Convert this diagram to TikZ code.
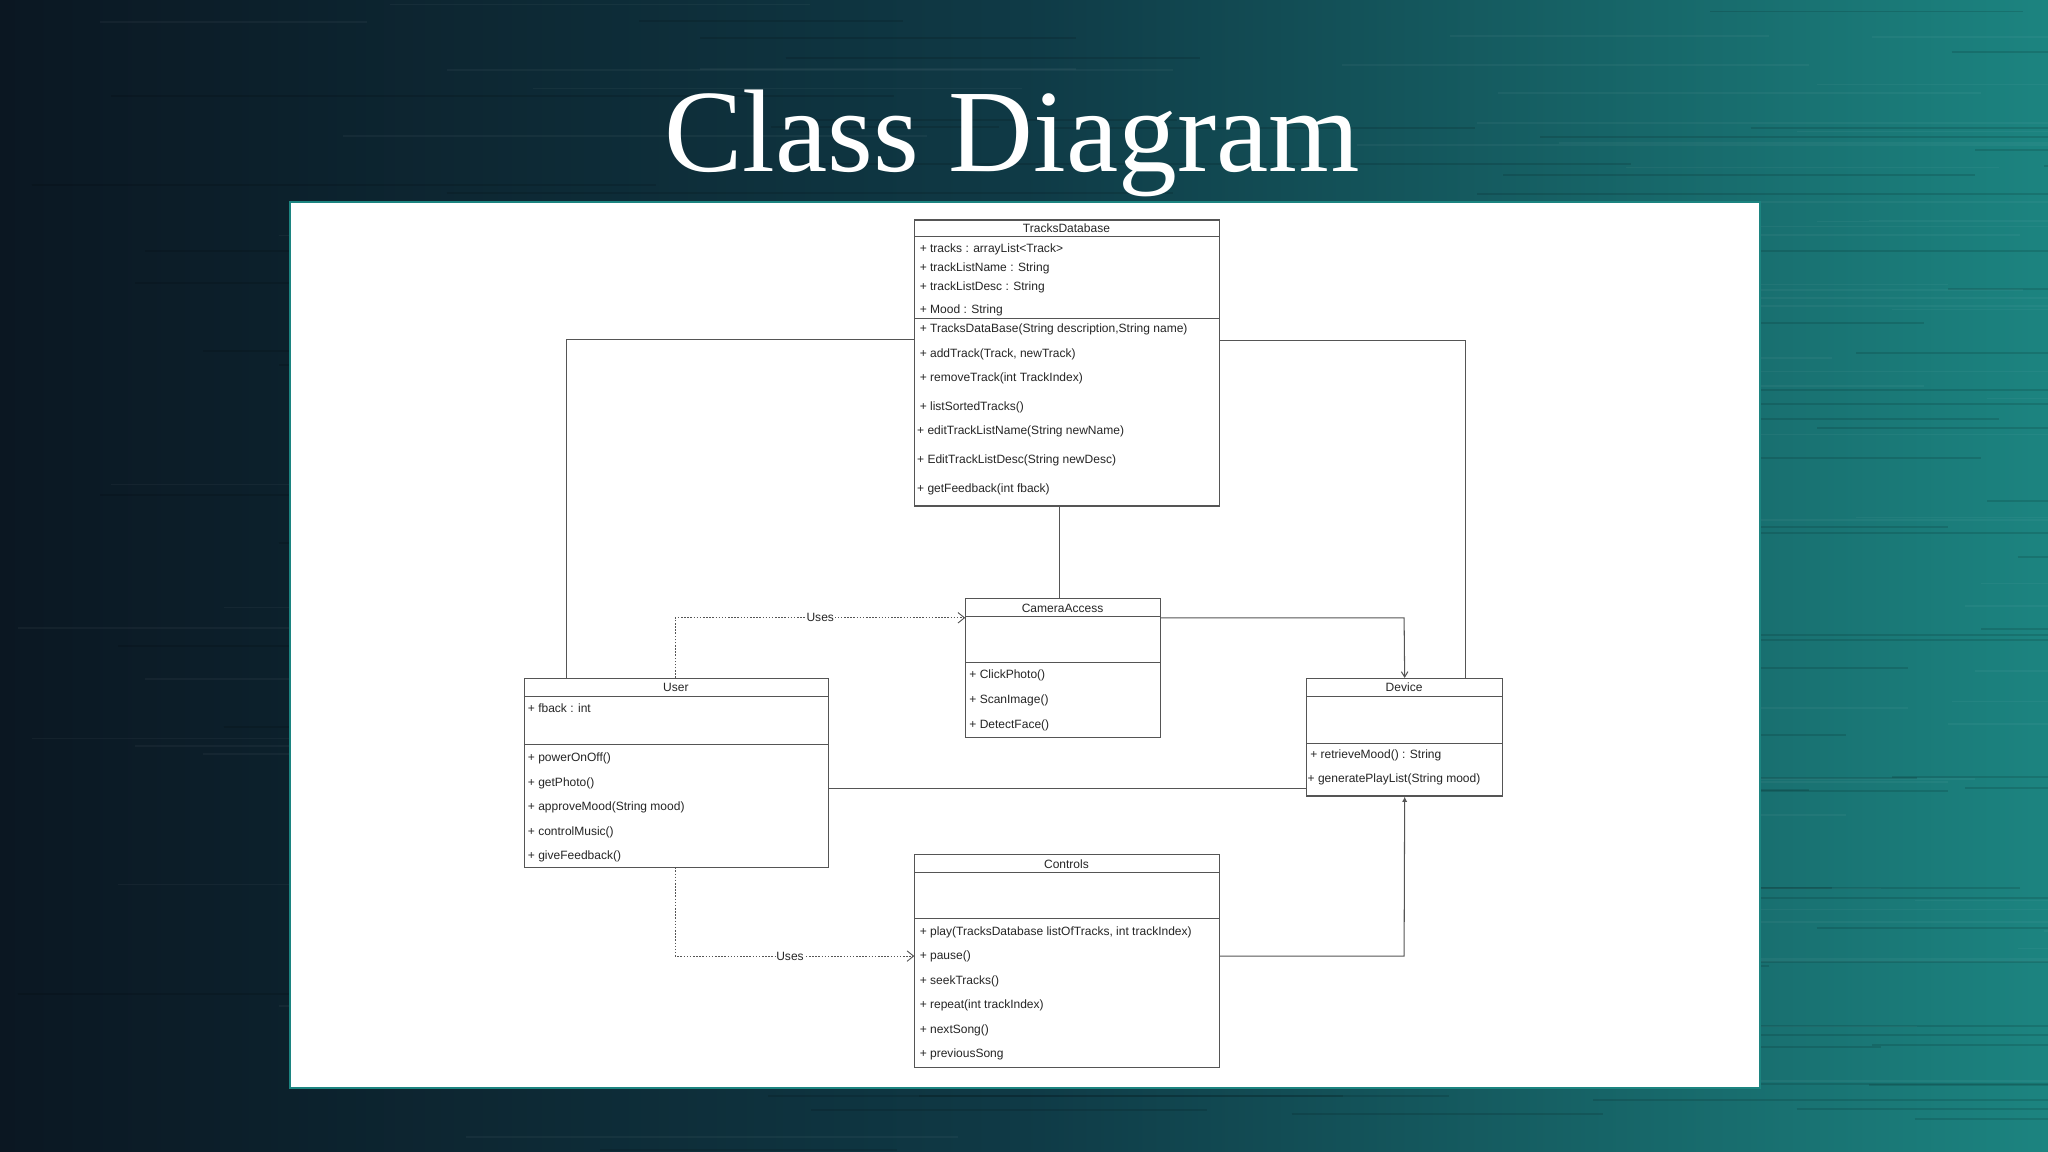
\documentclass[tikz,border=0pt]{standalone}
\usepackage{fontspec}
\newfontfamily\dsans{Liberation Sans}
\newfontfamily\dserif{Liberation Serif}
\usetikzlibrary{calc,arrows.meta}
\definecolor{bgA}{HTML}{0B1722}
\definecolor{bgB}{HTML}{0F3A46}
\definecolor{bgC}{HTML}{1C8480}
\definecolor{ln}{HTML}{555555}
\begin{document}
\begin{tikzpicture}[x=1pt,y=-1pt,
  box/.style={draw=ln,line width=0.9pt,fill=white,anchor=north west,inner sep=0pt},
  sep/.style={draw=ln,line width=0.8pt},
  mem/.style={anchor=west,font=\dsans\fontsize{9.2}{10}\selectfont,text=black!85,inner sep=0pt},
  ttl/.style={anchor=center,font=\dsans\fontsize{9.2}{10}\selectfont,text=black!85,inner sep=0pt},
  con/.style={draw=ln,line width=0.8pt},
  dep/.style={draw=ln,line width=0.7pt,dash pattern=on 1.2pt off 1.2pt,-{Straight Barb[open,length=5pt,width=8pt]}},
  lab/.style={font=\dsans\fontsize{9.2}{10}\selectfont,fill=white,inner sep=0.5pt,text=black!85}]
\useasboundingbox (0,0) rectangle (1568,882);
\shade[left color=bgA,right color=bgC,middle color=bgB] (0,0) rectangle (1568,882);
\pgfmathsetseed{7}
\foreach \i in {1,...,90}{
  \pgfmathsetmacro{\yy}{rnd*882}
  \pgfmathsetmacro{\xx}{rnd*1568}
  \pgfmathsetmacro{\ww}{150+rnd*500}
  \draw[white,opacity=0.04,line width=1.2pt] (\xx,\yy) -- ++(\ww,0);
  \pgfmathsetmacro{\yb}{rnd*882}
  \draw[black,opacity=0.12,line width=1.5pt] (\xx,\yb) -- ++(\ww,0);
}
\node[draw=bgC,line width=1.5pt,fill=white,anchor=north west,minimum width=1126pt,minimum height=678pt,inner sep=0pt] (panel) at (221,154) {};
\node[text=white,font=\dserif\fontsize{90}{94}\selectfont] (title) at (775,110) {Class Diagram};
% TracksDatabase
\node[box,minimum width=233pt,minimum height=219pt] (td) at (700,168) {};
\draw[sep] (700,181) -- (933,181) (700,244) -- (933,244);
\node[ttl] (tdt) at (816.5,175) {TracksDatabase};
\node[mem] (td1) at (704,191) {+ tracks : arrayList<Track>};
\node[mem] (td2) at (704,205.5) {+ trackListName : String};
\node[mem] (td3) at (704,220) {+ trackListDesc : String};
\node[mem] (td4) at (704,238) {+ Mood : String};
\node[mem] (td5) at (704,252.5) {+ TracksDataBase(String description,String name)};
\node[mem] (td6) at (704,271) {+ addTrack(Track, newTrack)};
\node[mem] (td7) at (704,290) {+ removeTrack(int TrackIndex)};
\node[mem] (td8) at (704,312) {+ listSortedTracks()};
\node[mem] (td9) at (702,330.5) {+ editTrackListName(String newName)};
\node[mem] (td10) at (702,352.5) {+ EditTrackListDesc(String newDesc)};
\node[mem] (td11) at (702,374.5) {+ getFeedback(int fback)};
% CameraAccess
\node[box,minimum width=149pt,minimum height=106pt] (ca) at (739,458) {};
\draw[sep] (739,472) -- (888,472) (739,507) -- (888,507);
\node[ttl] (cat) at (813.5,465.5) {CameraAccess};
\node[mem] (ca1) at (742,517) {+ ClickPhoto()};
\node[mem] (ca2) at (742,536) {+ ScanImage()};
\node[mem] (ca3) at (742,555) {+ DetectFace()};
% User
\node[box,minimum width=233pt,minimum height=145pt] (us) at (401,519) {};
\draw[sep] (401,533) -- (634,533) (401,570) -- (634,570);
\node[ttl] (ust) at (517.5,526.5) {User};
\node[mem] (us0) at (404,542.5) {+ fback : int};
\node[mem] (us1) at (404,580.5) {+ powerOnOff()};
\node[mem] (us2) at (404,599.5) {+ getPhoto()};
\node[mem] (us3) at (404,618.5) {+ approveMood(String mood)};
\node[mem] (us4) at (404,637.5) {+ controlMusic()};
\node[mem] (us5) at (404,656) {+ giveFeedback()};
% Device
\node[box,minimum width=150pt,minimum height=90pt] (dv) at (1000,519) {};
\draw[sep] (1000,533) -- (1150,533) (1000,569) -- (1150,569);
\node[ttl] (dvt) at (1075,526.5) {Device};
\node[mem] (dv1) at (1003,578.5) {+ retrieveMood() : String};
\node[mem] (dv2) at (1001,596.5) {+ generatePlayList(String mood)};
% Controls
\node[box,minimum width=233pt,minimum height=163pt] (ct) at (700,654) {};
\draw[sep] (700,668) -- (933,668) (700,703) -- (933,703);
\node[ttl] (ctt) at (816.5,661.5) {Controls};
\node[mem] (ct1) at (704,713.5) {+ play(TracksDatabase listOfTracks, int trackIndex)};
\node[mem] (ct2) at (704,732.5) {+ pause()};
\node[mem] (ct3) at (704,751) {+ seekTracks()};
\node[mem] (ct4) at (704,770) {+ repeat(int trackIndex)};
\node[mem] (ct5) at (704,789) {+ nextSong()};
\node[mem] (ct6) at (704,807.5) {+ previousSong};
% connectors
\coordinate (p1) at (434,260);
\coordinate (p2) at (1122,261);
\draw[con] (td.west |- p1) -- (p1) -- (p1 |- us.north);
\draw[con] (td.east |- p2) -- (p2) -- (p2 |- dv.north);
\draw[con] (811,387) -- (811,458);
\draw[con,-{Straight Barb[open,length=4pt,width=5pt]}] (ca.east |- 0,473) -- (1075,473) -- (dv.north);
\draw[con] (us.east |- 0,604) -- (dv.west |- 0,604);
\draw[con,-{Latex[length=4pt,width=4pt]}] (ct.east |- 0,732) -- (1075,732) -- (dv.south);
\draw[dep] (517,519) -- (517,473) -- node[lab,pos=0.5]{Uses} (ca.west |- 0,473);
\draw[dep] (517,664) -- (517,732) -- node[lab,pos=0.48]{Uses} (ct.west |- 0,732);
\end{tikzpicture}
\end{document}
